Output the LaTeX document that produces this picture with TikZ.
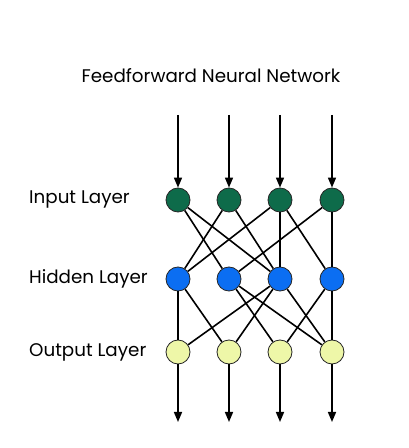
\documentclass[tikz,border=0pt]{standalone}
\usepackage{fontspec}
\setmainfont{Poppins}
\usetikzlibrary{arrows.meta}
\definecolor{ingreen}{HTML}{0E6B4A}
\definecolor{hidblue}{HTML}{0B6EF2}
\definecolor{outyel}{HTML}{EEF7A8}
\begin{document}
\begin{tikzpicture}[x=1pt,y=1pt,
  neuron/.style={circle,draw=black!85,line width=0.8pt,minimum size=24pt,inner sep=0pt},
  inn/.style={neuron,fill=ingreen},
  hid/.style={neuron,fill=hidblue},
  outn/.style={neuron,fill=outyel},
  edge/.style={line width=1.6pt,black},
  flow/.style={line width=1.6pt,black,-{Triangle[length=10pt,width=8pt]}},
  txt/.style={inner sep=0pt,font=\fontsize{18.3}{20}\selectfont},
  lbl/.style={txt,anchor=west},
]
\useasboundingbox (0,0) rectangle (408,448);
\fill[white] (0,0) rectangle (408,448);
\node[txt] (title) at (211,372) {Feedforward Neural Network};
\node[lbl] (lin) at (29,248) {Input Layer};
\node[lbl] (lhid) at (29,169) {Hidden Layer};
\node[lbl] (lout) at (29,96) {Output Layer};
\foreach \i/\x in {1/178,2/229,3/280,4/332}{
  \node[inn] (I\i) at (\x,248) {};
  \node[hid] (H\i) at (\x,169) {};
  \node[outn] (O\i) at (\x,96) {};
  \coordinate (T\i) at (\x,333);
  \coordinate (B\i) at (\x,26);
}
\foreach \a/\b in {1/2,1/3,2/1,2/3,3/1,3/3,3/4,4/2,4/4}{
  \draw[edge] (I\a) -- (H\b);
}
\foreach \a/\b in {1/1,1/2,2/3,2/4,3/1,3/2,3/4,4/3,4/4}{
  \draw[edge] (H\a) -- (O\b);
}
\foreach \i in {1,2,3,4}{
  \draw[flow] (T\i) -- (I\i);
  \draw[flow] (O\i) -- (B\i);
}
\end{tikzpicture}
\end{document}
